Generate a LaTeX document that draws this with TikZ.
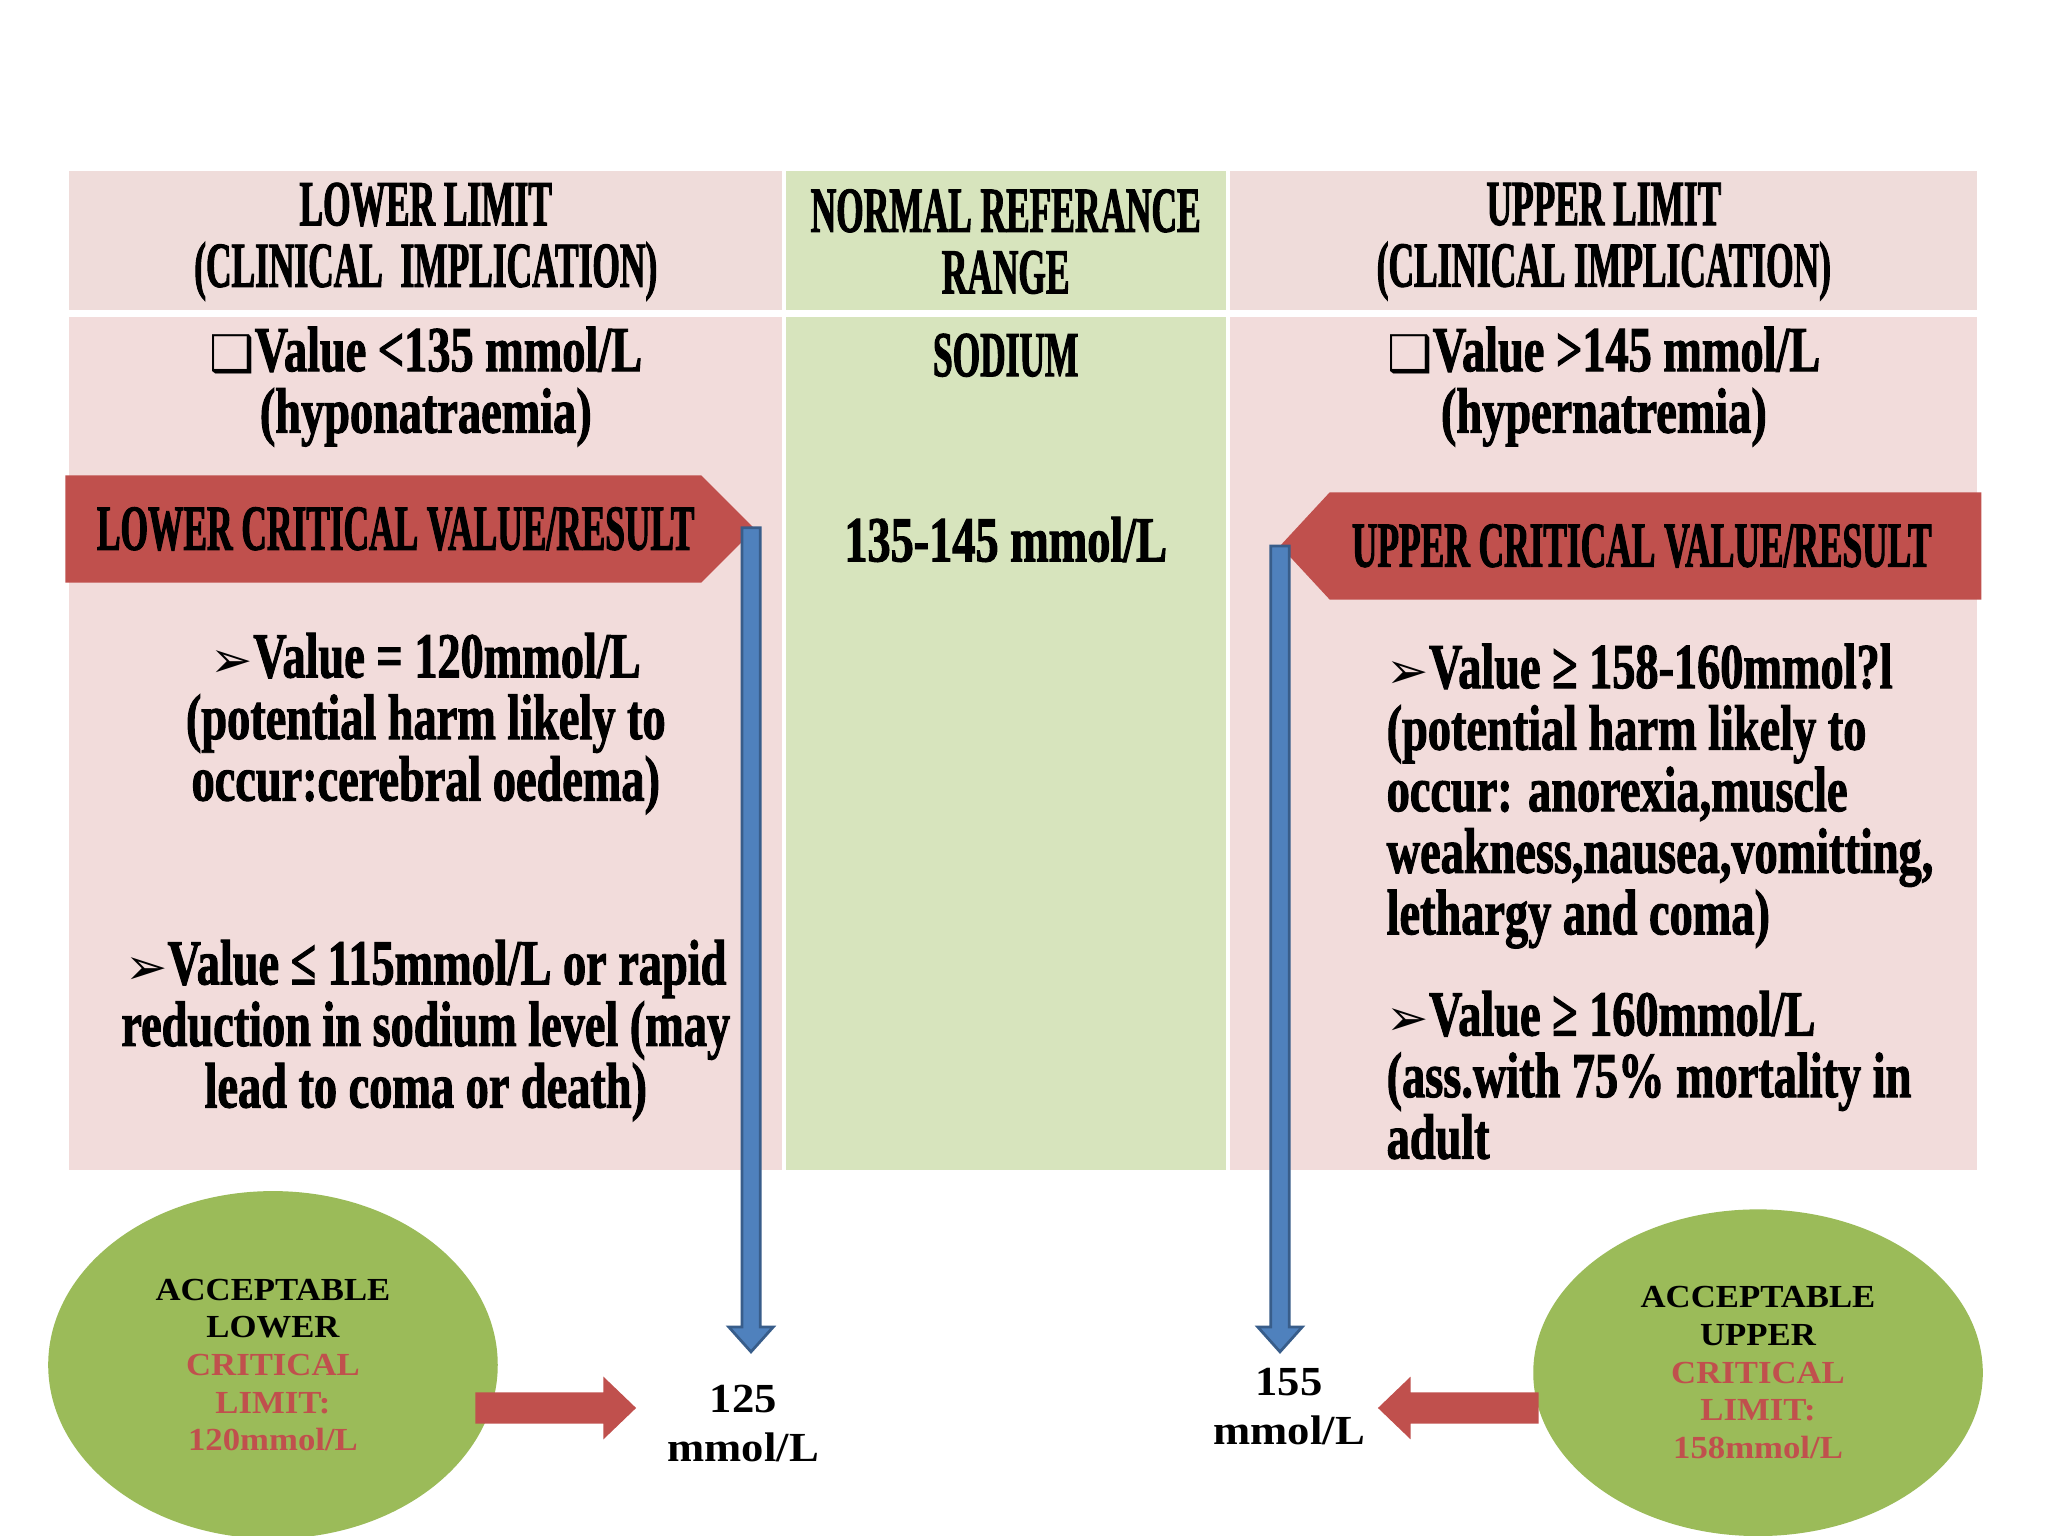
\documentclass[tikz,border=0pt]{standalone}
\usepackage{fontspec}
\setmainfont{Liberation Serif}[FakeStretch=0.55,FakeBold=1.5,BoldFont={* Bold}]
\newfontfamily\bodyf{Liberation Serif}[FakeStretch=0.72,FakeBold=1.5,BoldFont={* Bold}]
\newfontfamily\symf{DejaVu Sans}
\newfontfamily\copf{Liberation Serif}[FakeStretch=1.08]
\usetikzlibrary{shapes.geometric}
\definecolor{pinkh}{HTML}{EFDCDA}
\definecolor{pinkb}{HTML}{F2DCDB}
\definecolor{greenb}{HTML}{D7E4BD}
\definecolor{redb}{HTML}{C0504D}
\definecolor{blueb}{HTML}{4F81BD}
\definecolor{blued}{HTML}{385D8A}
\definecolor{greene}{HTML}{9BBB59}
\newcommand{\bx}{{\symf\fontsize{11}{12}\selectfont ❑}}
\newcommand{\ar}{{\symf\fontsize{11}{12}\selectfont ➢}}
\tikzset{
 txt/.style={font=\bfseries\fontsize{14}{13.4}\selectfont,align=center,inner sep=0},
 btxt/.style={font=\bodyf\bfseries\fontsize{14}{13.4}\selectfont,align=center,inner sep=0},
 ltxt/.style={font=\bodyf\bfseries\fontsize{14}{13.4}\selectfont,align=left,inner sep=0,anchor=north west},
 etxt/.style={font=\copf\bfseries\fontsize{7}{8.2}\selectfont,align=center,inner sep=0},
 barrow/.style={fill=blueb,draw=blued,line width=0.6pt},
 rarrow/.style={fill=redb,draw=none}
}
\begin{document}
\begin{tikzpicture}[x=0.01cm,y=-0.01cm]
\useasboundingbox (0,0) rectangle (1568,1176);
\fill[white] (0,0) rectangle (1568,1176);
% header
\fill[pinkh] (53,131) rectangle (599,237);
\fill[greenb] (602,131) rectangle (939,237);
\fill[pinkh] (942,131) rectangle (1514,237);
\fill[pinkb] (53,243) rectangle (599,896);
\fill[greenb] (602,243) rectangle (939,896);
\fill[pinkb] (942,243) rectangle (1514,896);
\node[txt] (h1) at (326,185) {LOWER LIMIT\\(CLINICAL\ \ IMPLICATION)};
\node[txt] (h2) at (770,185) {NORMAL REFERANCE\\RANGE};
\node[txt] (h3) at (1228,185) {UPPER LIMIT\\(CLINICAL IMPLICATION)};
\node[btxt] (l1) at (326,296) {\bx Value <135 mmol/L\\(hyponatraemia)};
\node[txt] (m1) at (770,272) {SODIUM};
\node[btxt] (r1) at (1228,296) {\bx Value >145 mmol/L\\(hypernatremia)};
\node[btxt] (m2) at (770,413) {135-145 mmol/L};
% banners
\fill[redb] (50,364) -- (537,364) -- (578,405) -- (537,446) -- (50,446) -- cycle;
\node[txt,text=black] (lb) at (303,405) {LOWER CRITICAL VALUE/RESULT};
\fill[redb] (1517,377) -- (1018,377) -- (980,418) -- (1018,459) -- (1517,459) -- cycle;
\node[txt,text=black] (rb) at (1257,418) {UPPER CRITICAL VALUE/RESULT};
% body texts
\node[btxt] (l2) at (326,554) {\ar Value = 120mmol/L\\(potential harm likely to\\occur:cerebral oedema)};
\node[btxt] (l3) at (326,789) {\ar Value ≤ 115mmol/L or rapid\\reduction in sodium level (may\\lead to coma or death)};
\node[ltxt] (r2) at (1061,492) {\ar Value ≥ 158-160mmol?l\\(potential harm likely to\\occur: anorexia,muscle\\weakness,nausea,vomitting,\\lethargy and coma)};
\node[ltxt] (r3) at (1061,758) {\ar Value ≥ 160mmol/L\\(ass.with 75\% mortality in\\adult};
% blue arrows
\draw[barrow] (568,404) -- (582,404) -- (582,1016) -- (592,1016) -- (575,1035) -- (558,1016) -- (568,1016) -- cycle;
\draw[barrow] (973,418) -- (987,418) -- (987,1016) -- (997,1016) -- (980,1035) -- (963,1016) -- (973,1016) -- cycle;
% ellipses
\node[ellipse,fill=greene,minimum width=3.44cm,minimum height=2.66cm,inner sep=0] (e1) at (209,1045) {};
\node[etxt] at (209,1045) {ACCEPTABLE\\LOWER\\\textcolor{redb}{CRITICAL}\\\textcolor{redb}{LIMIT:}\\\textcolor{redb}{120mmol/L}};
\node[ellipse,fill=greene,minimum width=3.44cm,minimum height=2.5cm,inner sep=0] (e2) at (1346,1051) {};
\node[etxt] at (1346,1051) {ACCEPTABLE\\UPPER\\\textcolor{redb}{CRITICAL}\\\textcolor{redb}{LIMIT:}\\\textcolor{redb}{158mmol/L}};
% red arrows
\fill[rarrow] (364,1066) -- (462,1066) -- (462,1054) -- (487,1078) -- (462,1102) -- (462,1090) -- (364,1090) -- cycle;
\fill[rarrow] (1178,1066) -- (1080,1066) -- (1080,1054) -- (1055,1078) -- (1080,1102) -- (1080,1090) -- (1178,1090) -- cycle;
\node[etxt,font=\copf\bfseries\fontsize{9}{10.8}\selectfont] (v1) at (569,1090) {125\\mmol/L};
\node[etxt,font=\copf\bfseries\fontsize{9}{10.8}\selectfont] (v2) at (987,1077) {155\\mmol/L};
\end{tikzpicture}
\end{document}
